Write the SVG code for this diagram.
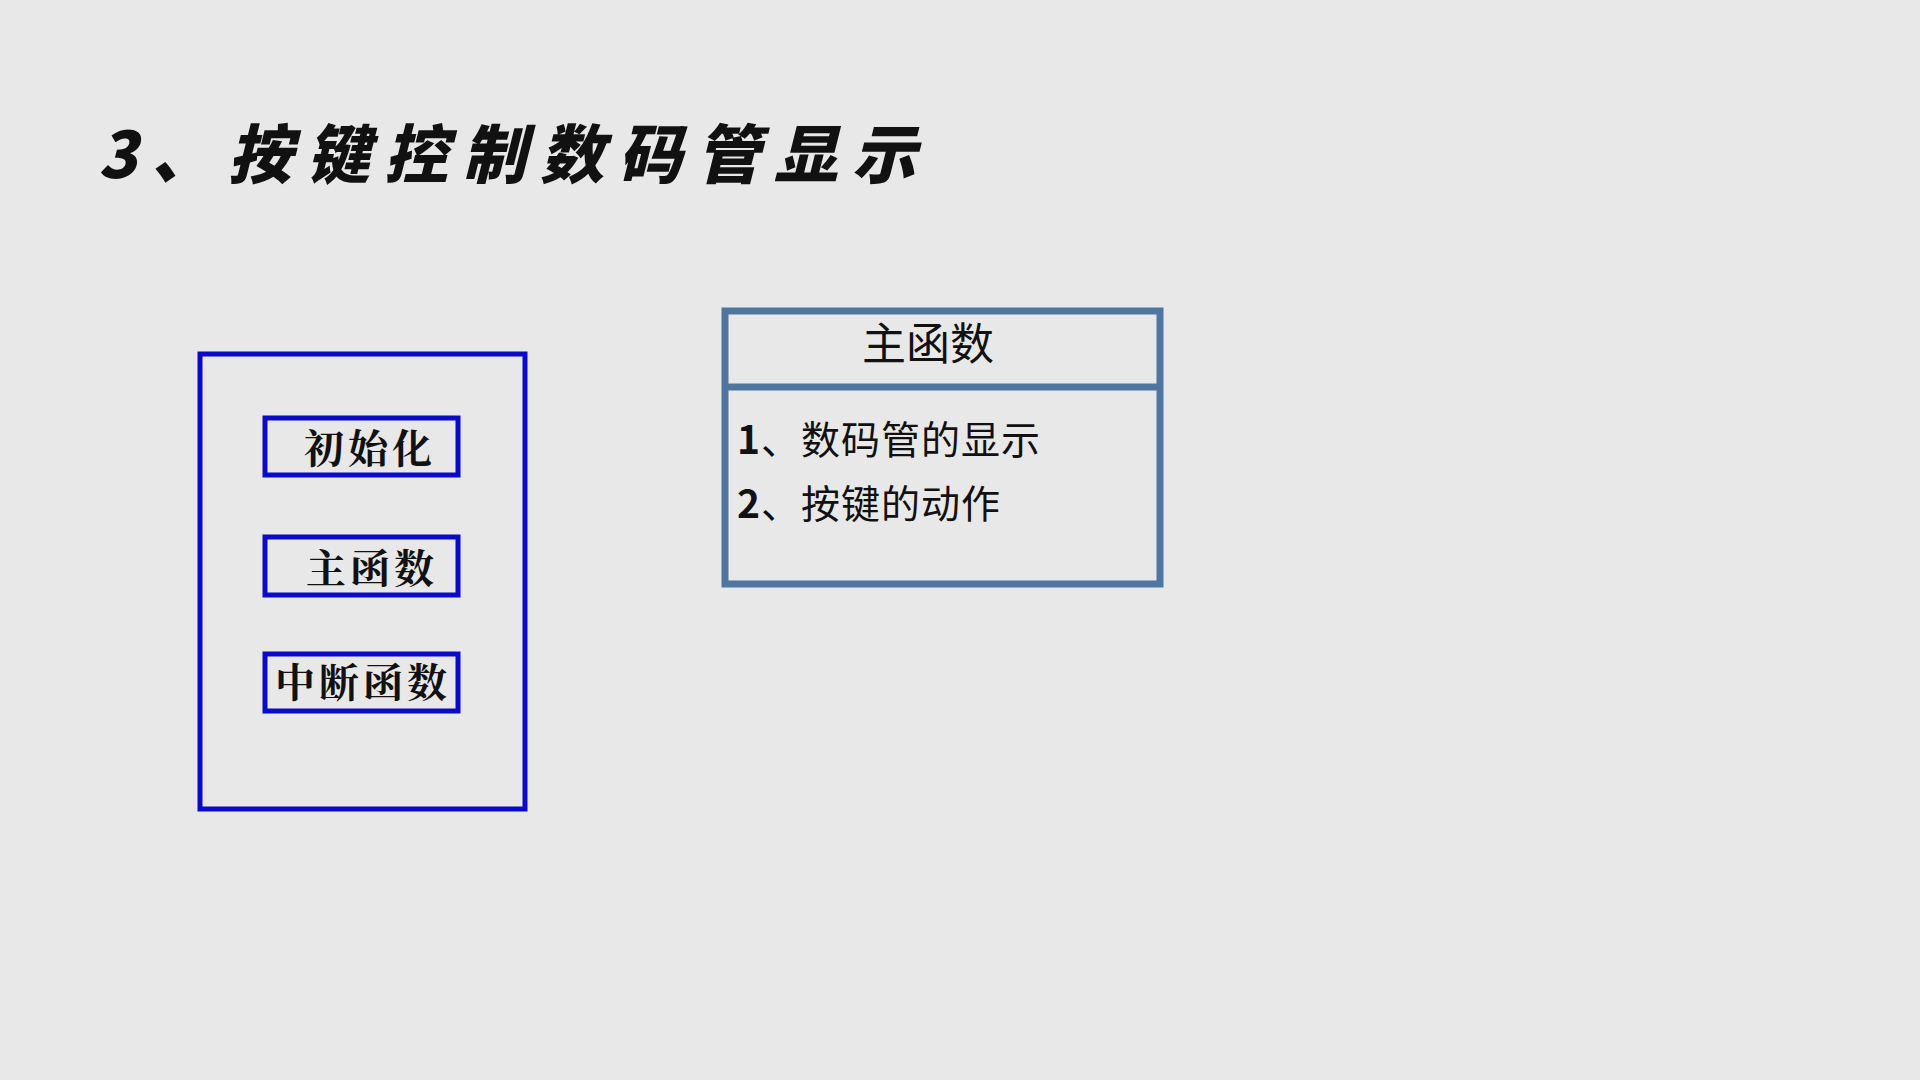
<svg xmlns="http://www.w3.org/2000/svg" width="1920" height="1080" viewBox="0 0 1920 1080">
<style>
.blue{fill:none;stroke:#0a0ac8;stroke-width:5}
.t{font-family:"Noto Serif CJK SC","Noto Sans CJK SC",serif;font-size:40px;font-weight:bold;fill:#111;text-anchor:middle;letter-spacing:4px}
.r{font-family:"Noto Sans CJK SC",sans-serif;font-size:39px;fill:#111;letter-spacing:1px}
</style>
<rect width="1920" height="1080" fill="#e8e8e8"/>
<text x="98" y="178" font-family="Noto Sans CJK SC, sans-serif" font-weight="900" font-size="64" font-style="italic" fill="#111" letter-spacing="14">3、<tspan x="228">按键控制数码管显示</tspan></text>
<g id="container"><rect class="blue" x="200" y="354" width="325" height="455"/></g>
<g id="init"><rect class="blue" x="265" y="418" width="193" height="57"/><text class="t" x="370" y="463">初始化</text></g>
<g id="main"><rect class="blue" x="265" y="537" width="193" height="58"/><text class="t" x="372" y="583">主函数</text></g>
<g id="isr"><rect class="blue" x="265" y="654" width="193" height="57"/><text class="t" x="363" y="697">中断函数</text></g>
<g id="mainbox">
<rect x="725" y="311" width="435" height="273" fill="none" stroke="#4f76a0" stroke-width="7"/>
<line x1="725" y1="387" x2="1160" y2="387" stroke="#4f76a0" stroke-width="7"/>
<text x="928" y="360" font-family="Noto Sans CJK SC, sans-serif" font-size="44" fill="#111" text-anchor="middle">主函数</text>
<text class="r" x="737" y="454"><tspan font-weight="bold">1</tspan>、数码管的显示</text>
<text class="r" x="737" y="518"><tspan font-weight="bold">2</tspan>、按键的动作</text>
</g>
<g id="connectors"/>
</svg>
